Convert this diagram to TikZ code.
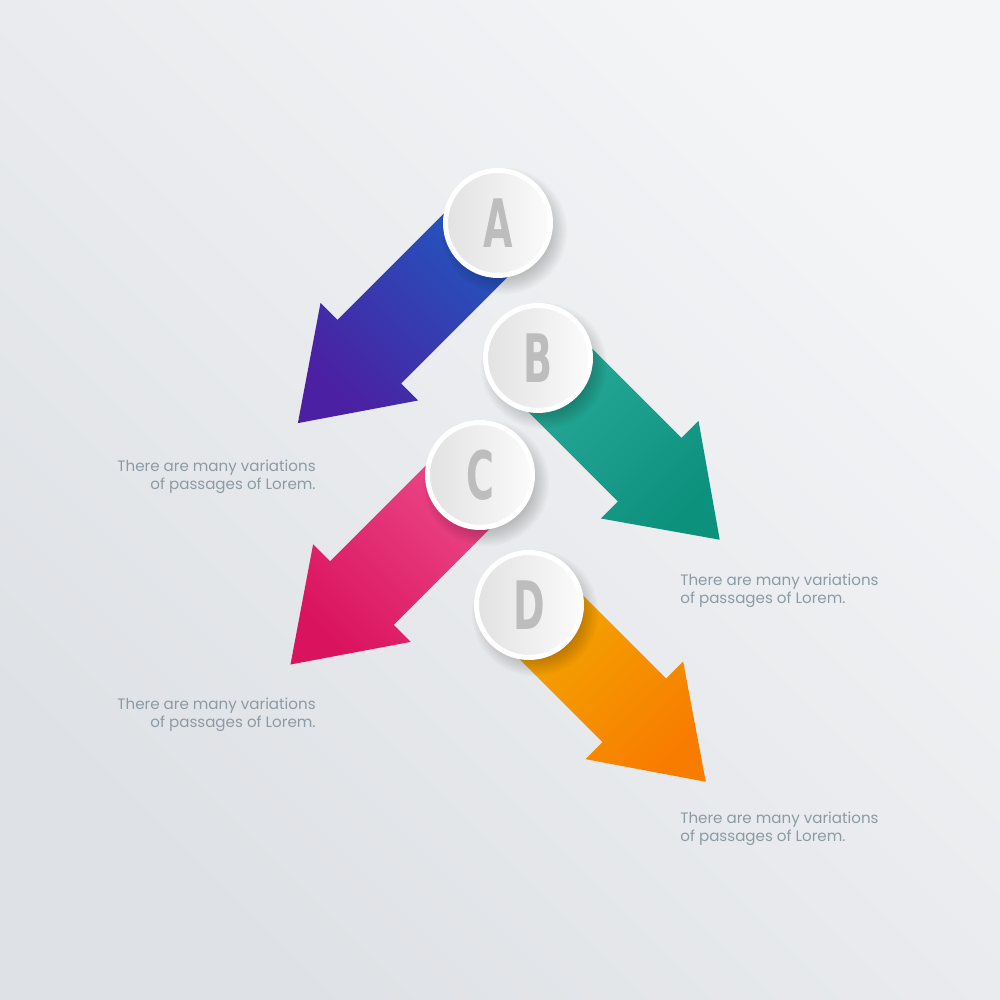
\documentclass[tikz,border=0pt]{standalone}
\usepackage{fontspec}
\usepackage{graphicx}
\setmainfont{Poppins}
\newfontfamily\letterfont{DejaVu Sans}
\definecolor{bgdark}{HTML}{DEE1E5}
\definecolor{bglight}{HTML}{F4F5F7}
\definecolor{badgeL}{HTML}{E2E2E3}
\definecolor{badgeR}{HTML}{FBFBFB}
\definecolor{letter}{HTML}{BDBDBD}
\definecolor{captext}{HTML}{8C9BA3}
\definecolor{blueNear}{HTML}{1F5BC0}
\definecolor{blueFar}{HTML}{4B20A2}
\definecolor{tealNear}{HTML}{2BAB9B}
\definecolor{tealFar}{HTML}{0C917D}
\definecolor{pinkNear}{HTML}{EC4C8B}
\definecolor{pinkFar}{HTML}{DA135E}
\definecolor{orangeNear}{HTML}{F2AA00}
\definecolor{orangeFar}{HTML}{F87C00}
\newcommand{\narrowletter}[1]{\scalebox{0.57}[1]{#1}}
\begin{document}
\begin{tikzpicture}[x=0.2mm, y=0.2mm]
    \tikzstyle{badge} = [circle, minimum size=21mm, inner sep=0pt, draw=white, line width=1mm, left color=badgeL, right color=badgeR, text=letter, font=\letterfont\bfseries\fontsize{38}{38}\selectfont]
    \tikzstyle{caption} = [inner sep=0pt, text=captext, font=\fontsize{8.6}{10.25}\selectfont]
    \useasboundingbox (0,0) rectangle (1000,1000);
    \shade [bottom color=bgdark, top color=bglight, shading angle=-45] (0,0) rectangle (1000,1000);

    \coordinate (cA) at (498,777);
    \coordinate (cB) at (538,642);
    \coordinate (cC) at (480,525);
    \coordinate (cD) at (529,395);

    % arrows: centre / direction / head base / tip / colours / shading angle
    \foreach \c/\ang/\base/\tip/\near/\far/\sa in {cA/225/182/283/blueNear/blueFar/-45, cB/-45/158/257/tealNear/tealFar/45, cC/225/167/268/pinkNear/pinkFar/-45, cD/-45/149/250/orangeNear/orangeFar/45}
        \shade [shift={(\c)}, rotate=\ang, top color=\near, bottom color=\far, shading angle=\sa]
            (0,45) -- (\base,45) -- (\base,69) -- (\tip,0) -- (\base,-69) -- (\base,-45) -- (0,-45) -- cycle;

    % soft shadows under the badges
    \foreach \c in {cA, cB, cC, cD}
        \foreach \r in {0,2,...,16}
            \fill [black, opacity=0.022] ([shift={(6,-8)}]\c) circle (47+\r);

    \node [badge] (A) at (cA) {\narrowletter{A}};
    \node [badge] (B) at (cB) {\narrowletter{B}};
    \node [badge] (C) at (cC) {\narrowletter{C}};
    \node [badge] (D) at (cD) {\narrowletter{D}};

    \node [caption, align=right, anchor=north east] (capA) at (316,540) {There are many variations\\of passages of Lorem.};
    \node [caption, align=left, anchor=north west] (capB) at (680,426) {There are many variations\\of passages of Lorem.};
    \node [caption, align=right, anchor=north east] (capC) at (316,302) {There are many variations\\of passages of Lorem.};
    \node [caption, align=left, anchor=north west] (capD) at (680,188) {There are many variations\\of passages of Lorem.};
\end{tikzpicture}
\end{document}
